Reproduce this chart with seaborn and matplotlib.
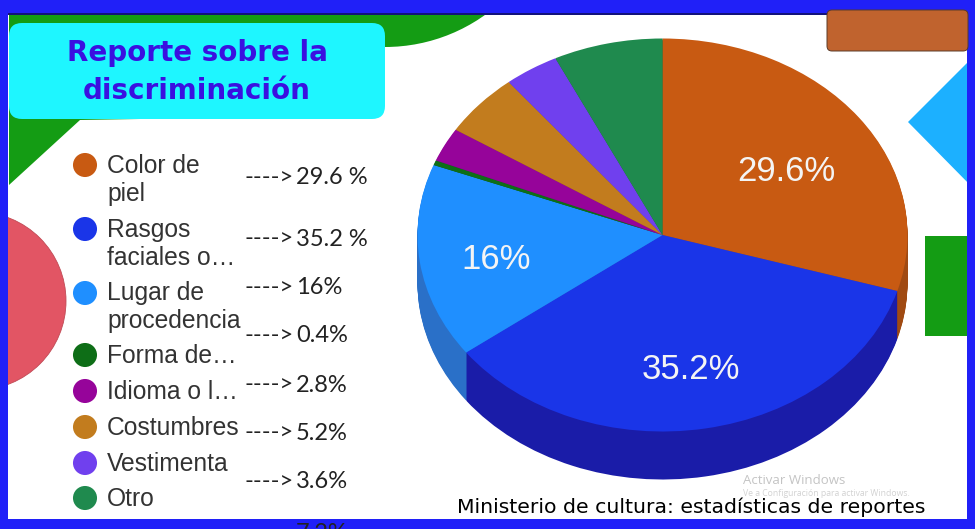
import numpy as np
import pandas as pd
import matplotlib
matplotlib.use("Agg")
import matplotlib.pyplot as plt
import seaborn as sns
from matplotlib.patches import Circle, FancyBboxPatch, Polygon, Rectangle

# =====================================================================
# DATA
# =====================================================================
CATEGORIES = ["Color de piel", "Rasgos faciales o...", "Lugar de procedencia", "Forma de...",
              "Idioma o l...", "Costumbres", "Vestimenta", "Otro"]
LEGEND_LABELS = ["Color de\npiel", "Rasgos\nfaciales o…", "Lugar de\nprocedencia", "Forma de…",
                 "Idioma o l…", "Costumbres", "Vestimenta", "Otro"]
VALUES = [29.6, 35.2, 16, 0.4, 2.8, 5.2, 3.6, 7.2]
ARROW_LABELS = ["29.6 %", "35.2 %", "16%", "0.4%", "2.8%", "5.2%", "3.6%"]
CUT_LABEL = "7.2%"  # last line of the list, almost hidden by the frame

COLORS = ["#C85A12", "#1A35E8", "#1F8FFF", "#0E6E17", "#96049A", "#C27C1E", "#7040EE", "#1F8A4E"]
SIDE_COLORS = ["#A04A12", "#1A1CA8", "#2A70C8", "#0A500F", "#6C0370", "#8E5A15", "#5030B0", "#166038"]

TITLE = "Reporte sobre la\ndiscriminación"
CAPTION = "Ministerio de cultura: estadísticas de reportes"

# layout, in pixels of the 975x529 picture
W, H = 975, 529
DOT_Y = [165, 229, 293, 355, 391, 427, 463, 498]
LABEL_Y = [180, 244, 307, 356, 392, 428, 464, 499]
ARROW_Y = [178, 239, 288, 336, 385, 433, 482]
PIE_CX, PIE_CY, PIE_RX, PIE_RY, PIE_DEPTH = 662.5, 235, 245, 196.5, 48
# nudges of the three pie labels, in pixels
PCT_NUDGE = {0: (-8, -15), 1: (0, -5), 2: (-4, -6)}

sns.set_theme(style="white")
fig = plt.figure(figsize=(W / 100, H / 100), dpi=100)

# =====================================================================
# BACKGROUND SHAPES (pixel coordinates)
# =====================================================================
bg = fig.add_axes([0, 0, 1, 1], zorder=1)
bg.set_axis_off()

green = "#149C14"
bg.add_patch(Circle((385, -125), 172, color=green, lw=0))
bg.add_patch(Polygon([(9, 13), (380, 13), (380, 115), (80, 120), (9, 185)], color=green, lw=0))
bg.add_patch(Circle((-23, 301), 89, facecolor="#E25564", edgecolor="#C04A55", lw=0.6))
bg.add_patch(Polygon([(908, 122), (975, 55), (975, 190)], color="#1CB0FF", lw=0))
bg.add_patch(Rectangle((925, 236), 50, 100, color=green, lw=0))

bg.add_patch(FancyBboxPatch((18, 32), 358, 78, boxstyle="round,pad=9,rounding_size=13",
                            facecolor="#1EF6FF", edgecolor="none"))
bg.text(197, 72, TITLE, color="#3A10E0", fontsize=20, fontweight="bold", family="DejaVu Sans",
        ha="center", va="center", linespacing=1.45)

# legend dots
legend_df = pd.DataFrame({"x": [85] * len(CATEGORIES), "y": DOT_Y, "cat": CATEGORIES})
sns.scatterplot(data=legend_df, x="x", y="y", hue="cat", hue_order=CATEGORIES, palette=COLORS,
                s=300, linewidth=0, legend=False, ax=bg)

for lab, y in zip(LEGEND_LABELS, LABEL_Y):
    bg.text(107, y, lab, color="#333333", fontsize=17.7, family="Liberation Sans",
            ha="left", va="center", linespacing=1.2)
for lab, y in zip(ARROW_LABELS, ARROW_Y):
    bg.text(244, y, "---->", color="#222222", fontsize=17, family="Lato", ha="left", va="center")
    bg.text(296, y, lab, color="#222222", fontsize=17, family="Lato", ha="left", va="center")

bg.text(743, 480, "Activar Windows", color="#C4C4C4", fontsize=9.5, family="Open Sans", ha="left", va="center")
bg.text(743, 493, "Ve a Configuración para activar Windows.", color="#D2D2D2", fontsize=6.2,
        family="Open Sans", ha="left", va="center")
bg.text(691, 507, CAPTION, color="black", fontsize=14.7, family="DejaVu Sans", ha="center", va="center")

bg.set_xlim(0, W)
bg.set_ylim(H, 0)
bg.set_xlabel("")
bg.set_ylabel("")

# =====================================================================
# PIE WITH DEPTH
# =====================================================================
depth = PIE_DEPTH / PIE_RY
left, right = PIE_CX - PIE_RX - 2, PIE_CX + PIE_RX + 2
top, bottom = PIE_CY - PIE_RY - 2, PIE_CY + PIE_RY + PIE_DEPTH + 2
ax = fig.add_axes([left / W, 1 - bottom / H, (right - left) / W, (bottom - top) / H], zorder=2)

# side wall: the same pie stacked downwards in the darker colours
for off in np.linspace(depth, 0.005, PIE_DEPTH):
    ax.pie(VALUES, colors=SIDE_COLORS, startangle=90, counterclock=False, center=(0, -off),
           wedgeprops={"linewidth": 0})

_, _, autotexts = ax.pie(VALUES, colors=COLORS, startangle=90, counterclock=False,
                         autopct=lambda p: f"{round(p, 1):g}%" if p > 10 else "", pctdistance=0.67,
                         wedgeprops={"linewidth": 0})
for i, t in enumerate(autotexts):
    t.set_color("#F4F4F4")
    t.set_fontsize(25)
    t.set_family("Liberation Sans")
    if i in PCT_NUDGE:
        px, py = t.get_position()
        t.set_position((px + PCT_NUDGE[i][0] / PIE_RX, py + PCT_NUDGE[i][1] / PIE_RY))

ax.set_aspect("auto")
ax.set_xlim(-(PIE_RX + 2) / PIE_RX, (PIE_RX + 2) / PIE_RX)
ax.set_ylim(-1 - depth - 2 / PIE_RY, 1 + 2 / PIE_RY)

# =====================================================================
# FRAME
# =====================================================================
frame = fig.add_axes([0, 0, 1, 1], zorder=3)
frame.set_axis_off()
frame.patch.set_alpha(0)
blue = "#2020F8"
for rect in [(0, 0, W, 14), (0, 519, W, 10), (0, 0, 8, H), (967, 0, 8, H)]:
    frame.add_patch(Rectangle(rect[:2], rect[2], rect[3], color=blue, lw=0))
frame.add_patch(Rectangle((8, 13), 959, 2, color="#12127A", lw=0))
frame.add_patch(FancyBboxPatch((831, 14), 133, 33, boxstyle="round,pad=4,rounding_size=5",
                               facecolor="#C0632E", edgecolor="#5A3A28", lw=0.7))
frame.text(296, 534, CUT_LABEL, color="#222222", fontsize=17, family="Lato", ha="left", va="center")
frame.set_xlim(0, W)
frame.set_ylim(H, 0)

fig.savefig("out.png", dpi=100)
